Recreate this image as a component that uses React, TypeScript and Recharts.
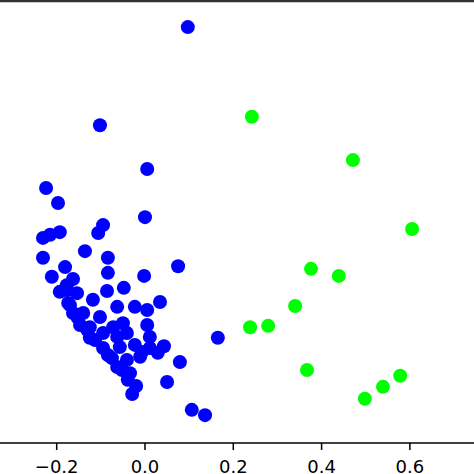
import React from "react";
import { ScatterChart, Scatter, XAxis, YAxis, ReferenceLine } from "recharts";

const blueX = [
  0.097, -0.102, 0.005, -0.224, -0.197, 0.0, -0.095, -0.106, -0.193, -0.215,
  -0.231, -0.136, -0.231, -0.084, 0.075, -0.181, -0.084, -0.002, -0.211, -0.163,
  -0.177, -0.048, -0.086, -0.177, -0.154, -0.118, 0.034, -0.063, -0.023, 0.005,
  -0.174, -0.163, -0.14, -0.102, -0.05, 0.005, -0.147, -0.125, -0.041, -0.095,
  -0.063, 0.011, -0.125, -0.057, -0.023, -0.095, 0.011, 0.043, -0.075, -0.041,
  -0.011, -0.063, -0.034, -0.02, -0.029, 0.05, 0.165, 0.079, 0.106, 0.136,
  0.029, -0.007, -0.193, -0.17, -0.152, -0.131, -0.113, -0.084, -0.052, -0.039,
  -0.072,
];
const blueY = [
  0.941, 0.719, 0.62, 0.577, 0.543, 0.511, 0.493, 0.475, 0.477, 0.471,
  0.464, 0.434, 0.419, 0.419, 0.4, 0.398, 0.385, 0.378, 0.376, 0.371,
  0.357, 0.351, 0.344, 0.346, 0.339, 0.324, 0.319, 0.308, 0.308, 0.301,
  0.317, 0.294, 0.294, 0.285, 0.271, 0.267, 0.267, 0.262, 0.249, 0.249,
  0.24, 0.24, 0.238, 0.217, 0.222, 0.215, 0.215, 0.219, 0.192, 0.188,
  0.195, 0.172, 0.158, 0.129, 0.111, 0.138, 0.238, 0.183, 0.075, 0.063,
  0.204, 0.206, 0.342, 0.312, 0.283, 0.256, 0.233, 0.199, 0.165, 0.143,
  0.262,
];
const greenX = [0.242, 0.471, 0.605, 0.376, 0.439, 0.34, 0.238, 0.279, 0.367, 0.578, 0.539, 0.498];
const greenY = [0.738, 0.64, 0.484, 0.394, 0.378, 0.31, 0.262, 0.265, 0.165, 0.152, 0.127, 0.1];
const xTicks = [-0.2, 0.0, 0.2, 0.4, 0.6];

const blueData = blueX.map((x, i) => ({ x, y: blueY[i] }));
const greenData = greenX.map((x, i) => ({ x, y: greenY[i] }));

const fmt = (v: number) => (v < 0 ? "\u2212" + Math.abs(v).toFixed(1) : v.toFixed(1));

const dot = (color: string) => (props: any) => (
  <circle cx={props.cx} cy={props.cy} r={7} fill={color} stroke="none" />
);

export default function App() {
  return (
    <div style={{ position: "absolute", left: 0, top: 0, width: 474, height: 474, background: "#fff" }}>
      <ScatterChart width={474} height={474} margin={{ top: 1, right: 0, bottom: 0, left: 0 }}>
        <XAxis
          type="number"
          dataKey="x"
          domain={[-0.3284, 0.7452]}
          ticks={xTicks}
          allowDataOverflow
          height={31}
          tickFormatter={fmt}
          tickSize={7}
          tickMargin={10}
          axisLine={{ stroke: "#000", strokeWidth: 1.5 }}
          tickLine={{ stroke: "#000", strokeWidth: 1.5 }}
          tick={{ fill: "#000", fontSize: 18, fontFamily: "DejaVu Sans" }}
        />
        <YAxis type="number" dataKey="y" domain={[0, 1]} hide allowDataOverflow />
        <ReferenceLine y={1} stroke="#333" strokeWidth={2.5} />
        <Scatter data={blueData} fill="#0000ff" shape={dot("#0000ff")} isAnimationActive={false} />
        <Scatter data={greenData} fill="#00ff00" shape={dot("#00ff00")} isAnimationActive={false} />
      </ScatterChart>
    </div>
  );
}
